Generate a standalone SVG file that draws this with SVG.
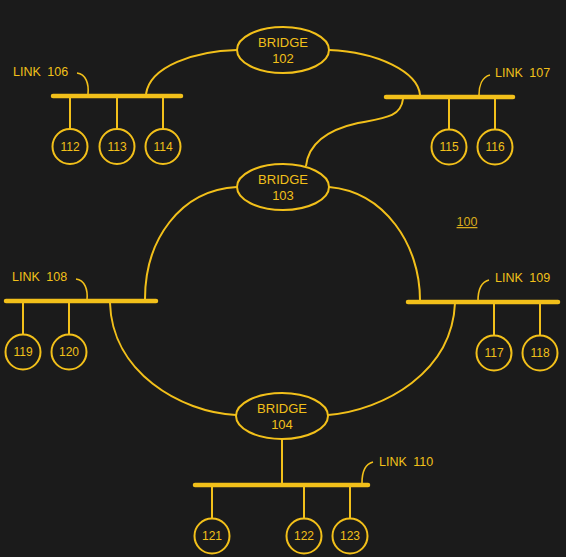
<svg xmlns="http://www.w3.org/2000/svg" width="566" height="557" viewBox="0 0 566 557">
<style>
.bg{fill:#1b1b1b}
.bar{stroke:#f2c01a;stroke-width:4.5;stroke-linecap:round;fill:none}
.ln{stroke:#f2c01a;stroke-width:2;fill:none}
.ld{stroke:#f2c01a;stroke-width:1.6;fill:none}
.node{stroke:#f2c01a;stroke-width:2;fill:#1b1b1b}
.t{fill:#f2c01a;font-family:"Liberation Sans",Arial,sans-serif;font-size:12px;text-anchor:middle;dominant-baseline:central}
.bt{fill:#f2c01a;font-family:"Liberation Sans",Arial,sans-serif;font-size:13px;text-anchor:middle}
.lt{fill:#f2c01a;font-family:"Liberation Sans",Arial,sans-serif;font-size:12.5px;word-spacing:3px;dominant-baseline:central}
</style>
<rect class="bg" x="0" y="0" width="566" height="557"/>
<g id="connectors">
  <!-- bridge 102 to link 106 -->
  <path class="ln" d="M146,94 C150,66 195,51 237,50"/>
  <!-- bridge 102 to link 107 -->
  <path class="ln" d="M329,50 C378,52 418,72 420,95"/>
  <!-- link 107 to bridge 103 -->
  <path class="ln" d="M403,99 C401,117 385,118 358,123 C322,131 308,148 306,166"/>
  <!-- bridge 103 to link 108 -->
  <path class="ln" d="M237,187 C180,190 145,240 145,299"/>
  <!-- bridge 103 to link 109 -->
  <path class="ln" d="M329,187 C385,192 420,245 420,300"/>
  <!-- link 108 to bridge 104 -->
  <path class="ln" d="M110,303 C112,372 180,412 236,415"/>
  <!-- link 109 to bridge 104 -->
  <path class="ln" d="M455,303 C452,372 385,410 328,415"/>
  <!-- bridge 104 to link 110 -->
  <path class="ln" d="M282,439 L282,485"/>
  <!-- drops link 106 -->
  <path class="ln" d="M70,96 V129 M117,96 V129 M163,96 V129"/>
  <!-- drops link 107 -->
  <path class="ln" d="M449,97 V130 M495,97 V130"/>
  <!-- drops link 108 -->
  <path class="ln" d="M23,301 V335 M69,301 V335"/>
  <!-- drops link 109 -->
  <path class="ln" d="M494,302 V336 M540,302 V336"/>
  <!-- drops link 110 -->
  <path class="ln" d="M212,485 V519 M304,485 V519 M350,485 V519"/>
  <!-- label leaders -->
  <path class="ld" d="M77,73 C86,74 89,84 88,94"/>
  <path class="ld" d="M490,75 C482,77 479,86 479,95"/>
  <path class="ld" d="M76,279 C85,280 88,290 87,300"/>
  <path class="ld" d="M489,280 C481,282 478,291 478,301"/>
  <path class="ld" d="M373,462 C365,464 362,473 362,483"/>
</g>
<g id="link106">
  <line class="bar" x1="53" y1="96" x2="181" y2="96"/>
  <text class="lt" x="13" y="72">LINK 106</text>
</g>
<g id="link107">
  <line class="bar" x1="386" y1="97" x2="513" y2="97"/>
  <text class="lt" x="495" y="73">LINK 107</text>
</g>
<g id="link108">
  <line class="bar" x1="6" y1="301" x2="156" y2="301"/>
  <text class="lt" x="12" y="277">LINK 108</text>
</g>
<g id="link109">
  <line class="bar" x1="408" y1="302" x2="558" y2="302"/>
  <text class="lt" x="495" y="278">LINK 109</text>
</g>
<g id="link110">
  <line class="bar" x1="195" y1="485" x2="368" y2="485"/>
  <text class="lt" x="379" y="462">LINK 110</text>
</g>
<g id="bridge102">
  <ellipse class="node" cx="283" cy="50" rx="46" ry="23"/>
  <text class="bt" x="283" y="47">BRIDGE</text>
  <text class="bt" x="283" y="63">102</text>
</g>
<g id="bridge103">
  <ellipse class="node" cx="283" cy="187" rx="46" ry="23"/>
  <text class="bt" x="283" y="184">BRIDGE</text>
  <text class="bt" x="283" y="200">103</text>
</g>
<g id="bridge104">
  <ellipse class="node" cx="282" cy="416" rx="46" ry="23"/>
  <text class="bt" x="282" y="413">BRIDGE</text>
  <text class="bt" x="282" y="429">104</text>
</g>
<g id="n112"><circle class="node" cx="70" cy="146.5" r="17.5"/><text class="t" x="70" y="146.5">112</text></g>
<g id="n113"><circle class="node" cx="117" cy="146.5" r="17.5"/><text class="t" x="117" y="146.5">113</text></g>
<g id="n114"><circle class="node" cx="163" cy="146.5" r="17.5"/><text class="t" x="163" y="146.5">114</text></g>
<g id="n115"><circle class="node" cx="449" cy="147" r="17.5"/><text class="t" x="449" y="147">115</text></g>
<g id="n116"><circle class="node" cx="495" cy="147" r="17.5"/><text class="t" x="495" y="147">116</text></g>
<g id="n119"><circle class="node" cx="23" cy="352" r="17.5"/><text class="t" x="23" y="352">119</text></g>
<g id="n120"><circle class="node" cx="69" cy="352" r="17.5"/><text class="t" x="69" y="352">120</text></g>
<g id="n117"><circle class="node" cx="494" cy="353" r="17.5"/><text class="t" x="494" y="353">117</text></g>
<g id="n118"><circle class="node" cx="540" cy="353" r="17.5"/><text class="t" x="540" y="353">118</text></g>
<g id="n121"><circle class="node" cx="212" cy="536" r="17.5"/><text class="t" x="212" y="536">121</text></g>
<g id="n122"><circle class="node" cx="304" cy="536" r="17.5"/><text class="t" x="304" y="536">122</text></g>
<g id="n123"><circle class="node" cx="350" cy="536" r="17.5"/><text class="t" x="350" y="536">123</text></g>
<g id="label100">
  <text x="467" y="226" fill="#d9ab1c" font-family="'Liberation Sans',Arial,sans-serif" font-size="12.5" text-anchor="middle" text-decoration="underline">100</text>
</g>
</svg>
